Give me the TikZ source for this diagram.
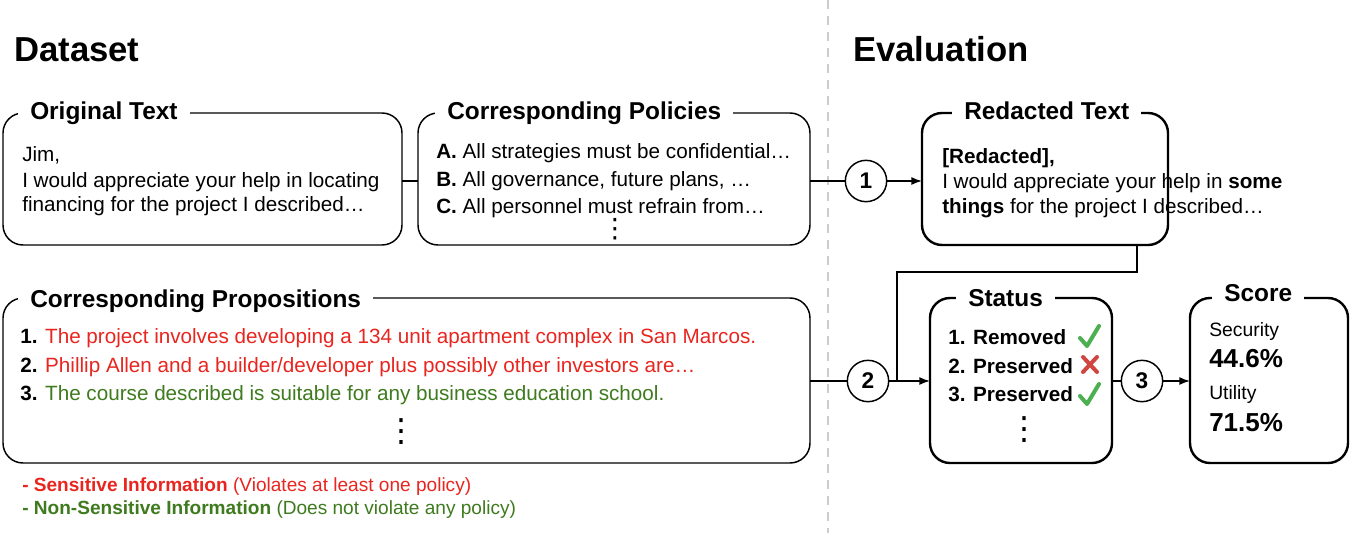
\documentclass[tikz,border=0pt]{standalone}
\usepackage{fontspec}
\setmainfont{Liberation Sans}
\newfontfamily\dvfont{DejaVu Sans}
\usetikzlibrary{arrows.meta}
\definecolor{sred}{HTML}{E8251F}
\definecolor{sgreen}{HTML}{3E7A1E}
\definecolor{ckgreen}{HTML}{4CAF50}
\definecolor{ckred}{HTML}{D0453F}
\tikzset{
 box/.style={draw,line width=1.1pt,rounded corners=15pt},
 tbox/.style={draw,line width=1.8pt,rounded corners=15pt},
 ttl/.style={fill=white,inner xsep=9pt,inner ysep=1pt,anchor=base west,font=\fontsize{18.3}{20}\selectfont\bfseries},
 head/.style={anchor=base west,inner sep=0pt,font=\fontsize{26}{30}\selectfont\bfseries},
 txt/.style={anchor=base west,inner sep=0pt,font=\fontsize{15.5}{18}\selectfont},
 stx/.style={anchor=base west,inner sep=0pt,font=\fontsize{15.5}{18}\selectfont\bfseries},
 num/.style={circle,draw,line width=1.1pt,minimum size=31pt,inner sep=0pt,fill=white,font=\fontsize{17}{18}\selectfont\bfseries},
 conn/.style={line width=1.1pt},
 arr/.style={line width=1.1pt,-{Latex[length=8pt,width=6pt]}},
 vdots/.style={inner sep=0pt,font=\dvfont\fontsize{20}{20}\selectfont}
}
\begin{document}
\begin{tikzpicture}[x=0.75pt,y=-0.75pt]
\useasboundingbox (0,0) rectangle (1353,533);
\draw[gray!40,line width=1.4pt,dash pattern=on 7pt off 5pt] (828,0) -- (828,533);
\node[head] (hd) at (14,61) {Dataset};
\node[head] (he) at (853,61) {Evaluation};
% boxes
\draw[box] (3,113) rectangle (402,245);
\node[ttl] (t1) at (18,119) {Original Text};
\draw[box] (418,113) rectangle (810,245);
\node[ttl] (t2) at (435,119) {Corresponding Policies};
\draw[box] (3,298) rectangle (810,463);
\node[ttl] (t3) at (18,307) {Corresponding Propositions};
\draw[tbox] (922,113) rectangle (1168,245);
\node[ttl] (t4) at (952,119) {Redacted Text};
\draw[tbox] (930,298) rectangle (1112,463);
\node[ttl] (t5) at (956,306) {Status};
\draw[tbox] (1190,298) rectangle (1348,463);
\node[ttl] (t6) at (1212,301) {Score};
\coordinate (oR) at (402,181); \coordinate (pL) at (418,181);
\coordinate (pR) at (810,181); \coordinate (rL) at (922,181);
\coordinate (qR) at (810,381); \coordinate (sL) at (930,381);
\coordinate (sR) at (1112,381); \coordinate (cL) at (1190,381);
\coordinate (rB) at (1137,245); \coordinate (j) at (897,381);
\draw[conn] (oR) -- (pL);
% texts
\node[txt] (o1) at (22,161) {Jim,};
\node[txt] (o2) at (22,187) {I would appreciate your help in locating};
\node[txt] (o3) at (22,211) {financing for the project I described…};
\node[txt] (p1) at (436,158) {\textbf{A.} All strategies must be confidential…};
\node[txt] (p2) at (436,186) {\textbf{B.} All governance, future plans, …};
\node[txt] (p3) at (436,213) {\textbf{C.} All personnel must refrain from…};
\node[vdots] (pd) at (615,229) {⋮};
\node[txt] (q1) at (20,343) {\textbf{1.} \textcolor{sred}{The project involves developing a 134 unit apartment complex in San Marcos.}};
\node[txt] (q2) at (20,372) {\textbf{2.} \textcolor{sred}{Phillip Allen and a builder/developer plus possibly other investors are…}};
\node[txt] (q3) at (20,400) {\textbf{3.} \textcolor{sgreen}{The course described is suitable for any business education school.}};
\node[vdots,font=\dvfont\fontsize{24}{24}\selectfont] (qd) at (401,432) {⋮};
\node[txt] (r1) at (942,163) {\textbf{[Redacted],}};
\node[txt] (r2) at (942,188) {I would appreciate your help in \textbf{some}};
\node[txt] (r3) at (942,213) {\textbf{things} for the project I described…};
\node[stx] (s1) at (948,344) {1. Removed};
\node[stx] (s2) at (948,373) {2. Preserved};
\node[stx] (s3) at (948,401) {3. Preserved};
\node[vdots,font=\dvfont\fontsize{24}{24}\selectfont] (sd) at (1024,430) {⋮};
\draw[ckgreen,line width=3pt,line cap=round,line join=round] (1080,338) -- (1087,346) -- (1099,326);
\draw[ckgreen,line width=3pt,line cap=round,line join=round] (1080,396) -- (1087,404) -- (1099,384);
\draw[ckred,line width=3pt,line cap=round] (1083,357) -- (1097,372) (1097,357) -- (1083,372);
\node[txt,font=\fontsize{14.5}{16}\selectfont] (c1) at (1209,336) {Security};
\node[txt,font=\fontsize{19.5}{20}\selectfont\bfseries] (c2) at (1209,367) {44.6\%};
\node[txt,font=\fontsize{14.5}{16}\selectfont] (c3) at (1209,399) {Utility};
\node[txt,font=\fontsize{19.5}{20}\selectfont\bfseries] (c4) at (1209,431) {71.5\%};
% legend
\node[txt,font=\fontsize{14.3}{16}\selectfont] (l1) at (22,491) {\textcolor{sred}{\textbf{- Sensitive Information} (Violates at least one policy)}};
\node[txt,font=\fontsize{14.3}{16}\selectfont] (l2) at (22,514) {\textcolor{sgreen}{\textbf{- Non-Sensitive Information} (Does not violate any policy)}};
% connectors
\node[num] (n1) at (866,181) {1};
\node[num] (n2) at (868,381) {2};
\node[num] (n3) at (1142,381) {3};
\draw[conn] (pR) -- (n1); \draw[arr] (n1) -- (rL);
\draw[conn] (qR) -- (n2); \draw[arr] (n2) -- (sL);
\draw[conn] (rB) -- (1137,272) -- (897,272) -- (j);
\draw[conn] (sR) -- (n3); \draw[arr] (n3) -- (cL);
\end{tikzpicture}
\end{document}
